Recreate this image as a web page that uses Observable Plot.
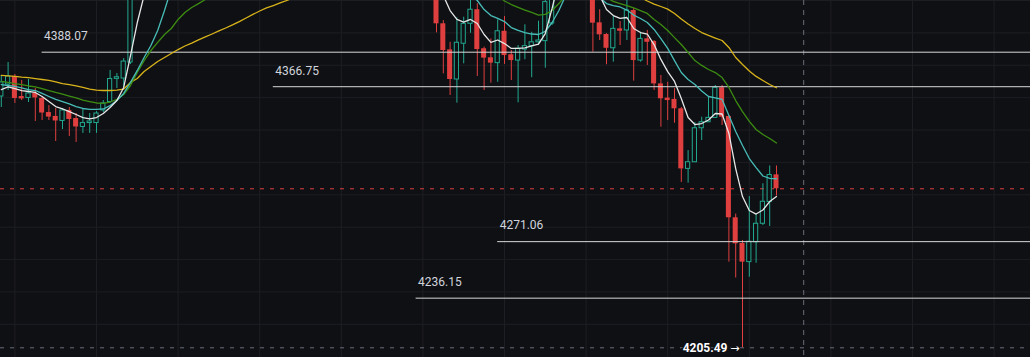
<!DOCTYPE html>
<html><head><meta charset="utf-8">
<script src="https://cdn.jsdelivr.net/npm/d3@7"></script>
<script src="https://cdn.jsdelivr.net/npm/@observablehq/plot@0.6"></script>
<style>
html,body{margin:0;padding:0;background:#0f1014;overflow:hidden;}
#chart svg{display:block;}
</style></head><body><div id="chart"></div>
<script>
// candle index (bar number), OHLC prices
const idx   = [0,1,2,3,4,5,6,7,8,9,10,11,12,13,14,15,16,17,18,19,
               64,65,66,67,68,69,70,71,72,73,74,75,76,77,78,79,80,81,
               87,88,89,90,91,92,93,94,95,96,97,98,99,100,101,102,103,104,105,106,107,108,109,110,111,112,113,114];
const open  = [4360.7,4368.1,4373.1,4360.7,4359.8,4362.6,4359.5,4350.8,4348.4,4345.6,4352.1,4347.1,4341.9,4344.3,4344.3,4352.1,4357.3,4371.6,4371.8,4381.7,
               4425.0,4405.6,4389.5,4371.2,4393.3,4405.6,4414.3,4390.2,4384.6,4381.3,4401.0,4386.5,4382.9,4389.7,4391.8,4394.2,4394.9,4405.8,
               4423.1,4406.2,4399.0,4390.5,4402.5,4401.5,4413.8,4382.9,4396.3,4394.7,4368.5,4359.7,4358.9,4353.1,4316.0,4320.1,4341.1,4344.8,4347.5,4366.1,4348.4,4285.8,4269.9,4258.4,4270.7,4282.1,4295.5,4312.3];
const high  = [4373.7,4381.7,4374.3,4370.6,4371.2,4365.6,4360.1,4355.1,4353.3,4353.3,4353.9,4350.2,4353.3,4350.2,4351.4,4358.2,4376.8,4374.9,4384.2,4445.0,
               4430.0,4407.6,4394.2,4409.3,4409.7,4421.2,4418.0,4391.2,4396.3,4408.1,4410.1,4389.1,4392.2,4405.0,4400.4,4407.2,4423.1,4438.5,
               4428.0,4414.3,4399.5,4410.1,4407.0,4421.9,4415.1,4400.4,4401.5,4395.3,4373.7,4369.5,4365.5,4353.9,4327.3,4344.6,4347.9,4360.3,4367.5,4367.5,4349.0,4288.1,4271.8,4298.9,4287.8,4306.8,4317.8,4317.8];
const low   = [4353.9,4364.4,4356.4,4358.2,4357.0,4345.3,4345.9,4345.9,4332.9,4340.3,4336.0,4332.3,4337.9,4337.9,4337.9,4350.8,4356.4,4365.6,4366.3,4380.5,
               4400.0,4374.7,4361.3,4356.6,4380.9,4399.8,4373.1,4364.4,4368.9,4369.5,4380.5,4370.6,4356.8,4383.4,4372.3,4392.2,4378.2,4404.6,
               4388.1,4395.3,4380.3,4381.9,4392.2,4395.3,4370.2,4381.9,4379.9,4364.4,4341.7,4345.9,4344.2,4307.6,4307.2,4319.9,4333.5,4344.6,4347.1,4342.8,4258.4,4248.6,4205.49,4249.1,4257.7,4281.0,4280.4,4299.2];
const close = [4369.4,4373.1,4359.5,4359.2,4362.6,4359.8,4350.5,4348.0,4345.6,4352.1,4346.5,4341.9,4344.3,4345.3,4350.2,4356.4,4371.5,4372.6,4382.3,4440.0,
               4405.6,4389.1,4371.2,4393.9,4405.6,4414.3,4389.7,4384.4,4381.3,4401.0,4386.0,4382.9,4390.2,4391.8,4394.2,4395.3,4419.0,4432.4,
               4406.0,4398.8,4390.5,4402.5,4401.0,4413.8,4382.9,4396.3,4394.2,4368.5,4359.3,4358.2,4353.1,4316.0,4320.1,4341.1,4344.8,4347.5,4366.1,4347.9,4285.8,4269.7,4258.4,4271.0,4282.1,4295.7,4312.2,4303.7];

// moving averages: [first bar index, values]
const maWhite = [
  [0,  [4365.0,4366.6,4365.6,4364.4,4363.8,4363.2,4360.7,4357.6,4354.5,4353.0,4351.4,4349.6,4347.7,4346.9,4347.7,4350.2,4353.9,4358.2,4366.3,4386.0,4406.4,4423.1,4444.7]],
  [65, [4423.1,4413.8,4408.3,4406.6,4408.3,4405.8,4399.0,4394.1,4395.6,4393.4,4390.4,4390.4,4390.7,4391.9,4393.1,4399.6,4415.1,4432.4]],
  [87, [4432.4,4423.1,4414.4,4410.7,4408.9,4409.5,4402.7,4400.2,4399.3,4392.8,4383.6,4376.1,4370.0,4359.5,4347.7,4343.4,4344.0,4346.2,4350.2,4349.9,4337.9,4316.2,4298.9,4290.3,4288.1,4290.6,4295.8,4298.9]]
];
const maTeal = [
  [0,  [4368.1,4367.5,4366.9,4366.0,4365.0,4364.4,4362.6,4360.7,4358.9,4357.6,4356.1,4354.5,4353.3,4352.7,4352.7,4353.0,4355.1,4358.2,4362.6,4369.4,4376.8,4384.8,4392.2,4401.5,4413.8,4427.4]],
  [69, [4423.1,4420.0,4414.4,4410.7,4408.9,4407.0,4403.3,4401.5,4400.2,4399.3,4399.0,4400.9,4406.4,4413.8,4423.1]],
  [87, [4427.4,4421.9,4418.1,4416.9,4416.0,4414.1,4411.0,4408.9,4406.4,4402.1,4396.5,4390.4,4382.9,4375.5,4371.2,4368.1,4364.1,4360.7,4359.8,4358.9,4349.0,4339.1,4330.4,4322.4,4316.8,4311.6,4310.1,4309.9]]
];
const maGreen = [
  [0,  [4370.0,4369.4,4368.7,4368.1,4367.2,4366.6,4365.6,4364.4,4363.2,4362.2,4361.0,4359.8,4358.5,4357.6,4356.7,4356.4,4357.3,4358.9,4361.9,4367.5,4375.5,4382.9,4389.1,4394.1,4399.0,4402.7,4408.3,4412.6,4415.7,4418.1,4420.6,4423.7]],
  [73, [4423.1,4419.7,4417.5,4415.7,4414.1,4412.6,4411.0,4411.4,4413.8,4418.1,4423.1]],
  [88, [4424.9,4421.9,4419.4,4418.1,4416.9,4415.4,4413.8,4412.0,4408.3,4405.2,4401.5,4397.1,4392.8,4387.9,4382.9,4379.9,4377.4,4375.5,4372.4,4366.3,4358.2,4351.4,4345.3,4340.3,4337.2,4334.8,4332.0]]
];
const maYellow = [
  [0,  [4373.7,4373.4,4373.1,4372.7,4372.4,4371.8,4371.2,4370.6,4369.7,4368.7,4368.1,4367.2,4366.3,4365.3,4364.7,4364.4,4364.4,4364.7,4365.3,4369.4,4371.8,4376.1,4379.2,4382.3,4384.8,4387.3,4389.7,4391.9,4393.7,4395.7,4397.5,4399.3,4401.2,4403.0,4404.9,4407.0,4409.2,4411.4,4413.5,4415.4,4416.9,4418.5,4420.0,4421.9]],
  [94, [4421.9,4419.7,4417.8,4416.3,4414.7,4412.0,4408.6,4405.5,4402.7,4400.2,4398.4,4396.8,4395.3,4391.0,4384.8,4380.5,4376.5,4373.1,4370.6,4368.1,4366.1]]
];

// drawn horizontal levels and where they start (bar index)
const levels     = [4388.07, 4366.75, 4271.06, 4236.15];
const levelStart = [6, 40, 73, 61];

// grid
const gridIdx    = [2,14,26,38,50,62,74,86,98,110,122,134,146];
const gridPrices = [4220,4240,4260,4280,4300,4320,4340,4360,4380,4400,4420];
const crossIdx   = 118;

const BG = "#0f1014", GRID = "#1d1e23", UP = "#22a88f", DOWN = "#df3f3f";
const W = 1030, H = 357;
const xMin = -0.8/6.8, xMax = (W - 0.8)/6.8;

const candles = idx.map((i,k) => ({i, open:open[k], high:high[k], low:low[k], close:close[k]}));
const ups = candles.filter(d => d.close >= d.open);
const downs = candles.filter(d => d.close < d.open);
const last = candles[candles.length - 1];
const lowest = candles.reduce((a,b) => b.low < a.low ? b : a);

function segRows(segs){
  const rows = [];
  segs.forEach(([s, vals], si) => vals.forEach((v,k) => rows.push({i: s + k, v, seg: si})));
  return rows;
}
const levelRows = levels.map((p,k) => ({price: p, start: levelStart[k]}));

const maLine = (segs, color) => Plot.line(segRows(segs), {x:"i", y:"v", z:"seg", stroke: color, strokeWidth: 1.3, clip: true});

const chart = Plot.plot({
  width: W, height: H, margin: 0,
  x: {domain: [xMin, xMax], axis: null},
  y: {domain: [4199.5, 4420], axis: null},
  color: {type: "identity"},
  style: {background: BG, fontFamily: "Roboto, sans-serif"},
  marks: [
    Plot.ruleX(gridIdx, {stroke: GRID}),
    Plot.ruleY(gridPrices, {stroke: GRID}),
    Plot.ruleY([last.close], {stroke: "#e0403f", strokeDasharray: "4,6"}),
    Plot.ruleY([lowest.low], {stroke: "#6a6d78", strokeDasharray: "4,6"}),
    Plot.ruleX([crossIdx], {stroke: "#6a6d78", strokeDasharray: "5,5"}),
    Plot.ruleX(candles, {x: "i", y1: "low", y2: "high", stroke: d => d.close >= d.open ? UP : DOWN, clip: true}),
    Plot.rect(downs, {x1: d => d.i - 0.37, x2: d => d.i + 0.37, y1: "open", y2: "close", fill: DOWN, clip: true}),
    Plot.rect(ups, {x1: d => d.i - 0.31, x2: d => d.i + 0.31, y1: "open", y2: "close", fill: BG, stroke: UP, strokeWidth: 1, clip: true}),
    Plot.ruleY(levelRows, {y: "price", x1: "start", x2: () => xMax, stroke: "#d8d8d8"}),
    maLine(maYellow, "#d9b31a"),
    maLine(maGreen, "#3c8c12"),
    maLine(maTeal, "#48bdb8"),
    maLine(maWhite, "#e6e6e6"),
    Plot.text(levelRows, {x: "start", y: "price", text: d => d.price.toFixed(2), dx: 2, dy: -16, textAnchor: "start", fill: "#d1d4dc", fontSize: 12, fontFamily: "Roboto, sans-serif"}),
    Plot.text([lowest], {x: "i", y: "low", text: d => d.low.toFixed(2), dx: -15, textAnchor: "end", fill: "#ffffff", fontWeight: "bold", fontSize: 12, fontFamily: "Roboto, sans-serif", stroke: BG, strokeWidth: 3}),
    Plot.text([lowest], {x: "i", y: "low", text: () => "\u2192", dx: -3, dy: 1, textAnchor: "end", fill: "#ffffff", fontSize: 11, fontFamily: "DejaVu Sans, sans-serif", stroke: BG, strokeWidth: 2})
  ]
});
document.getElementById("chart").appendChild(chart);
</script>
</body></html>
